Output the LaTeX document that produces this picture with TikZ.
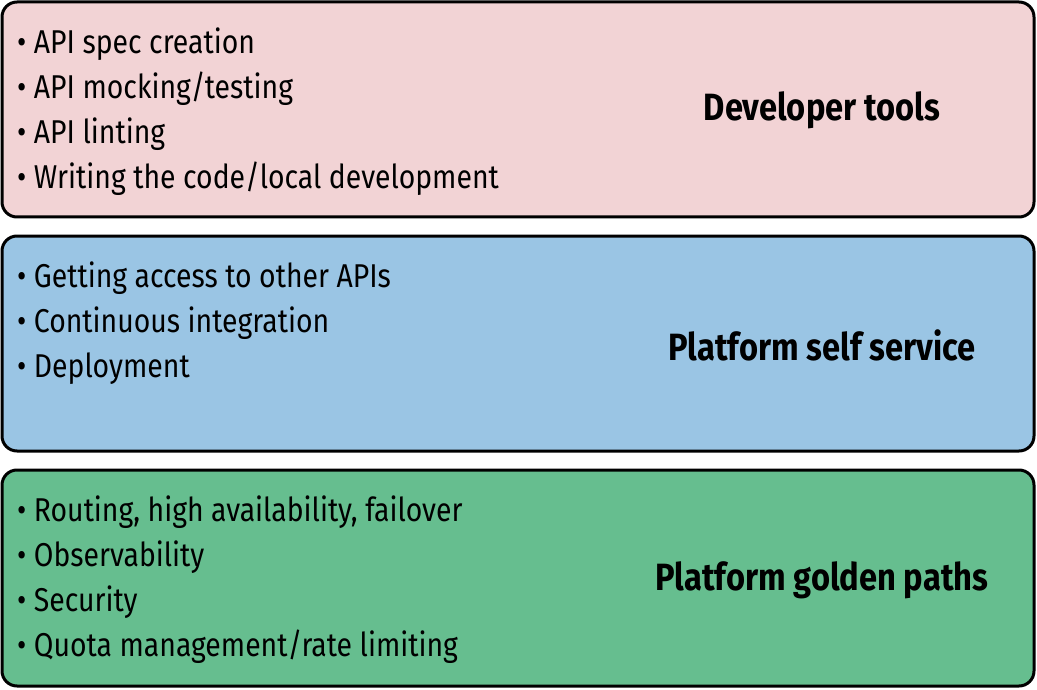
\documentclass[tikz,border=0pt]{standalone}
\usepackage{fontspec}
\setmainfont{Fira Sans}[FakeStretch=0.86]
\usetikzlibrary{positioning}
\definecolor{devpink}{HTML}{F2D3D5}
\definecolor{selfblue}{HTML}{9AC5E4}
\definecolor{goldgreen}{HTML}{66BE8F}
\begin{document}
\begin{tikzpicture}[x=1pt, y=-1pt,
  layer/.style={draw, line width=3pt, rounded corners=15pt},
  items/.style={anchor=north west, align=left, font=\fontsize{33}{45}\selectfont, inner sep=0pt},
  title/.style={font=\fontsize{38}{44}\selectfont\bfseries}]
  \useasboundingbox (0,0) rectangle (1037,690);
  \draw[layer, fill=devpink] (2,2) rectangle (1034,217);
  \draw[layer, fill=selfblue] (2,236) rectangle (1034,451);
  \draw[layer, fill=goldgreen] (2,470) rectangle (1034,686);

  \node[items] (dev_items) at (17,28) {• API spec creation\\• API mocking/testing\\• API linting\\• Writing the code/local development};
  \node[title] (dev_title) at (822,110) {Developer tools};

  \node[items] (self_items) at (17,262) {• Getting access to other APIs\\• Continuous integration\\• Deployment};
  \node[title] (self_title) at (822,345) {Platform self service};

  \node[items] (gold_items) at (17,496) {• Routing, high availability, failover\\• Observability\\• Security\\• Quota management/rate limiting};
  \node[title] (gold_title) at (822,580) {Platform golden paths};
\end{tikzpicture}
\end{document}
